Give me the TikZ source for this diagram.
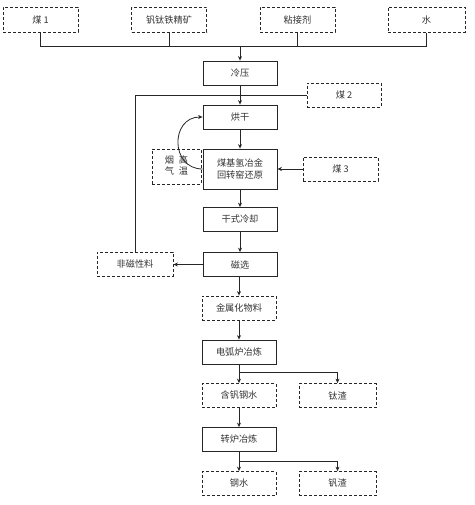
\documentclass[tikz,border=0pt]{standalone}
\usepackage{fontspec}
\setmainfont{Noto Sans CJK SC}
\usetikzlibrary{arrows.meta}
\tikzset{
  box/.style={draw=black!85, line width=0.8pt, minimum width=74pt, minimum height=24pt, inner sep=1pt, font=\fontsize{9.2}{11.5}\selectfont, text=black!80},
  dbox/.style={box, dashed, dash pattern=on 3pt off 2pt},
  conn/.style={draw=black!85, line width=0.8pt},
  arr/.style={conn, -{Stealth[length=4.5pt,width=4pt]}}
}
\begin{document}
\begin{tikzpicture}[x=1pt,y=-1pt]
\useasboundingbox (0,0) rectangle (474,505);
% top inputs
\node[dbox, minimum width=75pt, minimum height=25pt] (m1) at (40.5,20) {煤 1};
\node[dbox, minimum width=75pt, minimum height=25pt] (vt) at (169,20) {钒钛铁精矿};
\node[dbox, minimum width=75pt, minimum height=25pt] (nj) at (297.5,20) {粘接剂};
\node[dbox, minimum width=77pt, minimum height=25pt] (sh) at (426.5,20) {水};
% main column
\node[box] (ly) at (240,73) {冷压};
\node[dbox] (m2) at (344,95) {煤 2};
\node[box] (hg) at (240,117) {烘干};
\node[box, minimum height=40pt, align=center] (hy) at (240,169) {煤基氢冶金\\回转窑还原};
\node[dbox, minimum width=49pt, minimum height=35pt] (yq) at (176.5,166.5) {\begin{tabular}{@{}c@{\hspace{5pt}}c@{}}烟&高\\气&温\end{tabular}};
\node[dbox, minimum width=75pt] (m3) at (340.5,169) {煤 3};
\node[box] (gl) at (240,219.5) {干式冷却};
\node[box] (cx) at (240,264.5) {磁选};
\node[dbox, minimum width=76pt] (fc) at (135,264) {非磁性料};
\node[dbox] (jh) at (239,308) {金属化物料};
\node[box] (dh) at (239,352) {电弧炉冶炼};
\node[dbox] (hf) at (239,395.5) {含钒钢水};
\node[dbox, minimum width=77pt] (tz) at (337.5,395.5) {钛渣};
\node[box] (zl) at (239,439.5) {转炉冶炼};
\node[dbox] (gs) at (239,483.5) {钢水};
\node[dbox, minimum width=77pt] (fz) at (337.5,483.5) {钒渣};
% bus
\coordinate (bus) at (240,46);
\draw[conn] (m1.south) |- (bus);
\draw[conn] (sh.south) |- (bus);
\draw[conn] (vt.south) -- (vt.south |- bus);
\draw[conn] (nj.south) -- (nj.south |- bus);
\draw[arr] (bus) -- (ly.north);
% flow
\draw[arr] (ly.south) -- (hg.north);
\draw[conn] (m2.west) -| (fc.north);
\draw[arr] (hg.south) -- (hy.north);
\draw[arr] (m3.west) -- (hy.east);
\draw[arr] (hy.west) to[out=180,in=180,looseness=1.6] (hg.west);
\draw[arr] (hy.south) -- (gl.north);
\draw[arr] (gl.south) -- (cx.north);
\draw[arr] (cx.west) -- (cx.west -| fc.east);
\draw[arr] (cx.south -| jh.north) -- (jh.north);
\draw[arr] (jh.south) -- (dh.north);
\coordinate (s1) at (239,372);
\draw[arr] (dh.south) -- (hf.north);
\draw[arr] (s1) -| (tz.north);
\draw[arr] (hf.south) -- (zl.north);
\coordinate (s2) at (239,461);
\draw[arr] (zl.south) -- (gs.north);
\draw[arr] (s2) -| (fz.north);
\end{tikzpicture}
\end{document}
